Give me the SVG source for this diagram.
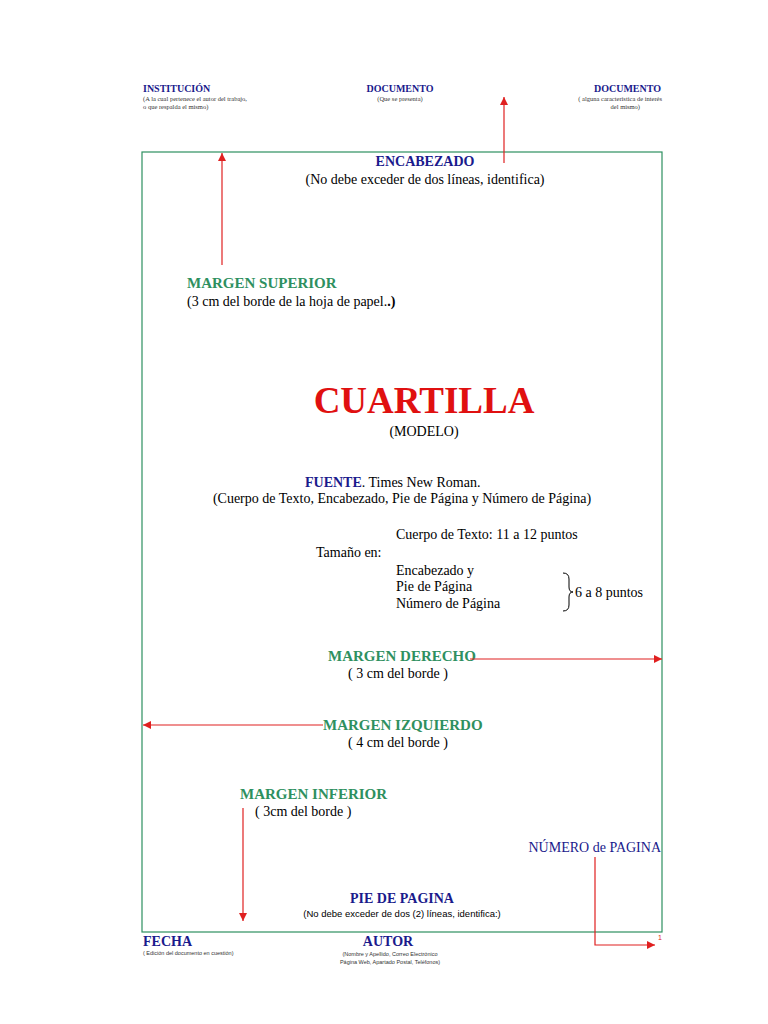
<svg xmlns="http://www.w3.org/2000/svg" width="768" height="1024" viewBox="0 0 768 1024" xml:space="preserve">
<style>
.t{font-family:"Liberation Serif",serif}
.nb{font-family:"Liberation Serif",serif;font-weight:bold;fill:#1a1a8c}
.g{font-family:"Liberation Serif",serif;font-weight:bold;fill:#2e9060;font-size:15px}
.s{font-family:"Liberation Serif",serif;font-size:6.5px;fill:#333}
.a{stroke:#e02020;stroke-width:1.2;fill:none}
</style>
<defs><marker id="ah" viewBox="0 0 10 10" refX="10" refY="5" markerWidth="7" markerHeight="7" orient="auto-start-reverse"><path d="M0,0 L10,5 L0,10 z" fill="#e02020"/></marker></defs>
<rect width="768" height="1024" fill="#fff"/>
<g id="page"><rect x="142" y="152" width="520" height="780" fill="none" stroke="#2e9060" stroke-width="1.2"/></g>
<g id="header">
<text class="nb" x="143" y="92" font-size="10">INSTITUCIÓN</text>
<text class="s" x="143" y="101">(A la cual pertenece el autor del trabajo,</text>
<text class="s" x="143" y="109">o que respalda el mismo)</text>
<text class="nb" x="400" y="92" font-size="10" text-anchor="middle">DOCUMENTO</text>
<text class="s" x="400" y="101" text-anchor="middle">(Que se  presenta)</text>
<text class="nb" x="661" y="92" font-size="10" text-anchor="end">DOCUMENTO</text>
<text class="s" x="662" y="101" text-anchor="end">( alguna característica de interés</text>
<text class="s" x="640" y="109" text-anchor="end">del mismo)</text>
</g>
<g id="encabezado">
<text class="nb" x="425" y="166" font-size="14" text-anchor="middle">ENCABEZADO</text>
<text class="t" x="425" y="184" font-size="14" text-anchor="middle">(No debe exceder de dos líneas, identifica)</text>
</g>
<g id="msup"><text class="g" x="187" y="288">MARGEN SUPERIOR</text>
<text class="t" x="187" y="306" font-size="14">(3 cm del borde de la hoja de papel.<tspan font-weight="bold">.)</tspan></text></g>
<g id="cuartilla">
<text class="t" x="424" y="413" font-size="37" font-weight="bold" fill="#e01010" text-anchor="middle">CUARTILLA</text>
<text class="t" x="424" y="436" font-size="14" text-anchor="middle">(MODELO)</text>
<text class="t" x="305" y="487" font-size="14"><tspan class="nb">FUENTE</tspan>.  Times New Roman.</text>
<text class="t" x="402" y="503" font-size="14" text-anchor="middle">(Cuerpo de Texto, Encabezado, Pie de Página y Número de Página)</text>
<text class="t" x="396" y="539" font-size="14">Cuerpo de Texto: 11 a 12 puntos</text>
<text class="t" x="316" y="557" font-size="14">Tamaño en:</text>
<text class="t" x="396" y="575" font-size="14">Encabezado  y</text>
<text class="t" x="396" y="591" font-size="14">Pie de Página</text>
<text class="t" x="396" y="608" font-size="14">Número de Página</text>
<path d="M563,573 q6,0 6,6 v8 q0,5 4,5 q-4,0 -4,5 v8 q0,6 -6,6" fill="none" stroke="#000" stroke-width="1"/>
<text class="t" x="575" y="597" font-size="14">6 a 8 puntos</text>
</g>
<g id="mder"><text class="g" x="328" y="661">MARGEN DERECHO</text><text class="t" x="348" y="678" font-size="14">( 3 cm del borde )</text></g>
<g id="mizq"><text class="g" x="323" y="730">MARGEN IZQUIERDO</text><text class="t" x="348" y="747" font-size="14">( 4 cm del borde )</text></g>
<g id="minf"><text class="g" x="240" y="799">MARGEN INFERIOR</text><text class="t" x="255" y="816" font-size="14">( 3cm del borde )</text></g>
<g id="numpag"><text class="t" x="661" y="852" font-size="14" fill="#1a1a8c" text-anchor="end">NÚMERO  de  PAGINA</text></g>
<g id="pie"><text class="nb" x="402" y="903" font-size="14" text-anchor="middle">PIE DE PAGINA</text>
<text x="402" y="917" font-family="Liberation Sans Narrow,Liberation Sans,sans-serif" font-size="9.5" text-anchor="middle">(No debe exceder de dos (2) líneas, identifica:)</text></g>
<g id="footer">
<text class="nb" x="143" y="946" font-size="14">FECHA</text>
<text x="143" y="955" font-family="Liberation Sans,sans-serif" font-size="5.5" fill="#333">( Edición del documento en cuestión)</text>
<text class="nb" x="388" y="946" font-size="14" text-anchor="middle">AUTOR</text>
<text x="390" y="956" font-family="Liberation Sans,sans-serif" font-size="5.5" fill="#333" text-anchor="middle">(Nombre y Apellido, Correo Electrónico</text>
<text x="390" y="964" font-family="Liberation Sans,sans-serif" font-size="5.5" fill="#333" text-anchor="middle">Página Web, Apartado Postal, Teléfonos)</text>
<text x="658" y="940" font-family="Liberation Sans,sans-serif" font-size="7" fill="#e02020">1</text>
</g>
<g id="connectors">
<path class="a" d="M504,163 V97" marker-end="url(#ah)"/>
<path class="a" d="M222,265 V153" marker-end="url(#ah)"/>
<path class="a" d="M470,659 H662" marker-end="url(#ah)"/>
<path class="a" d="M323,725 H143" marker-end="url(#ah)"/>
<path class="a" d="M243,808 V921" marker-end="url(#ah)"/>
<path class="a" d="M595,857 V945 H655" marker-end="url(#ah)"/>
</g>
</svg>
